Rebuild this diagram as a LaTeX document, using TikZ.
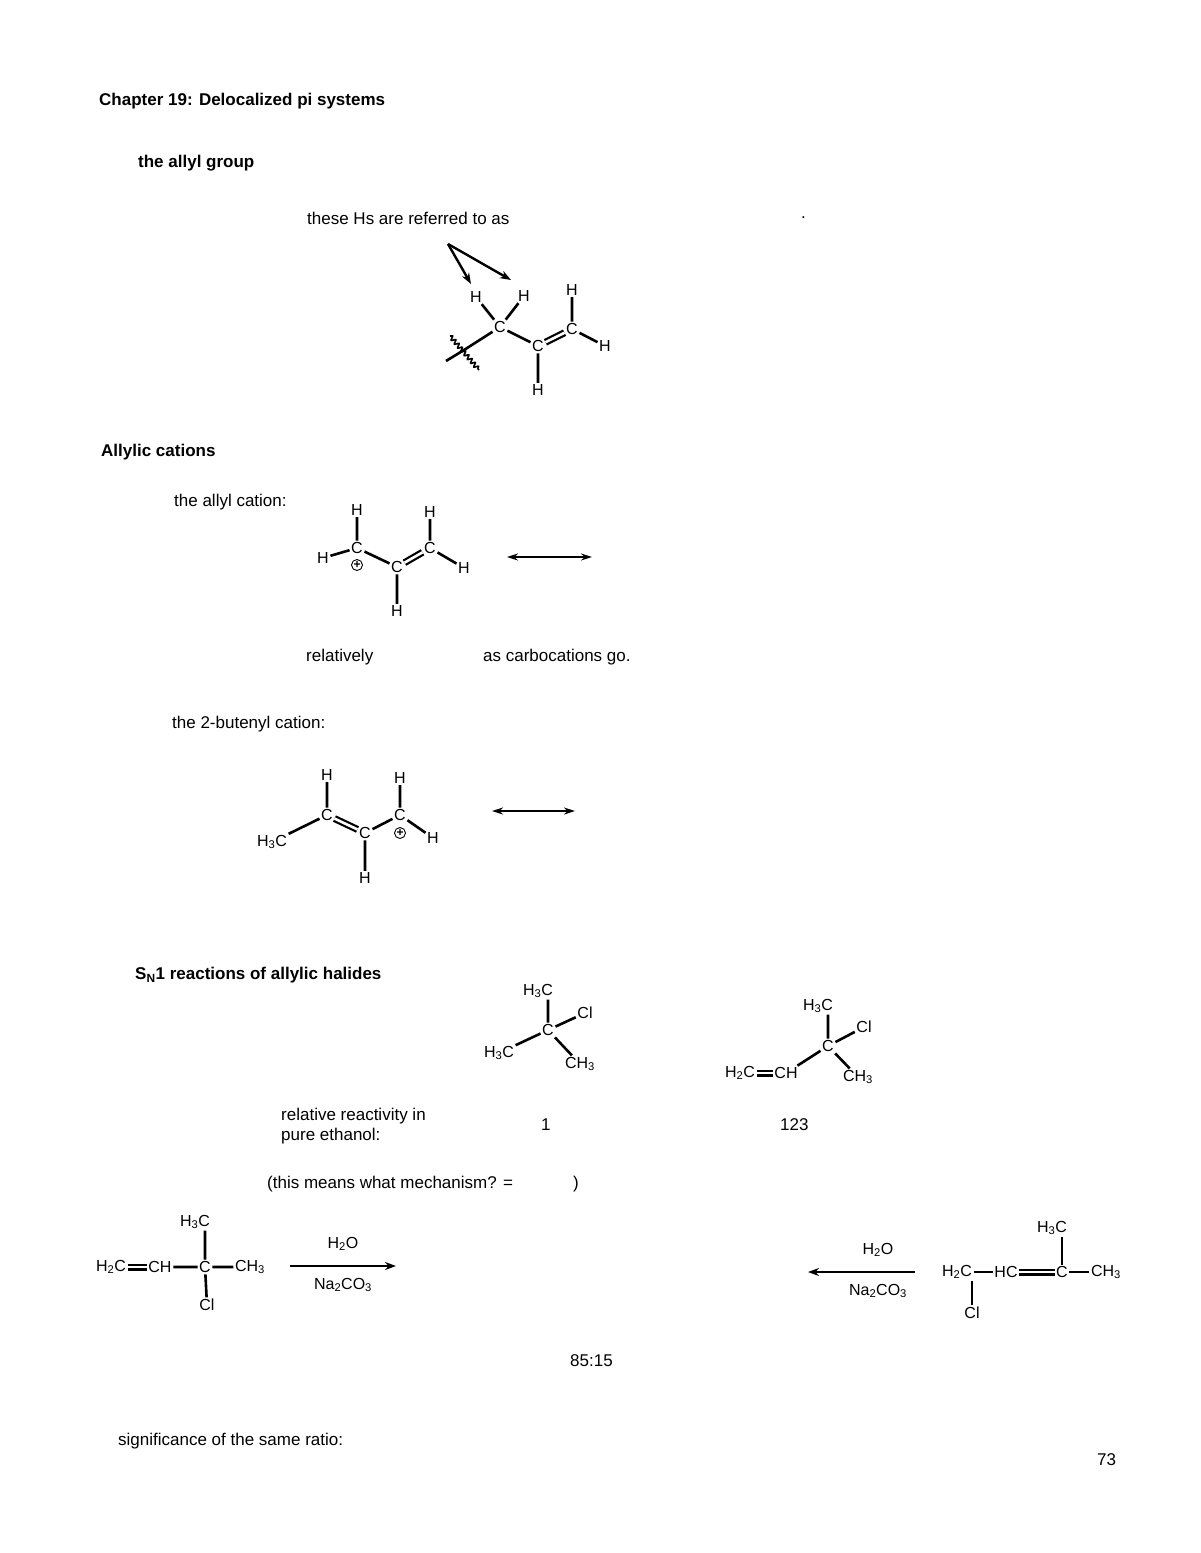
\documentclass[tikz,border=0pt]{standalone}
\usepackage{fontspec}
\setmainfont{Liberation Sans}
\usetikzlibrary{arrows.meta,decorations.pathmorphing}
\newcommand\ssub[1]{\textsubscript{#1}}
\begin{document}
\begin{tikzpicture}[x=1pt,y=-1pt,
  txt/.style={anchor=west,inner sep=0pt,font=\fontsize{17}{20}\selectfont},
  ttl/.style={anchor=west,inner sep=0pt,font=\fontsize{17}{20}\selectfont\bfseries},
  atm/.style={inner sep=1.5pt,font=\fontsize{16}{18}\selectfont},
  bd/.style={line width=2.6pt},
  dbd/.style={line width=2.2pt,double,double distance=2.6pt},
  arr/.style={line width=2.4pt,-{Stealth[length=11pt,width=8pt]}},
  darr/.style={line width=1.5pt,{Stealth[length=11pt,width=7pt]}-{Stealth[length=11pt,width=7pt]}},
  pl/.style={circle,draw,line width=0.9pt,inner sep=0pt,minimum size=11pt,font=\fontsize{12}{12}\selectfont\bfseries}]
\useasboundingbox (0,0) rectangle (1200,1553);
% headings and texts
\node[ttl] (t1) at (99,101) {Chapter 19: Delocalized pi systems};
\node[ttl] (t2) at (138,163) {the allyl group};
\node[txt] (t3) at (307,218) {these Hs are referred to as};
\node[txt] (t4) at (801,218) {.};
\node[ttl] (t5) at (101,452) {Allylic cations};
\node[txt] (t6) at (174,502) {the allyl cation:};
\node[txt] (t7) at (306,657) {relatively};
\node[txt] (t8) at (483,657) {as carbocations go.};
\node[txt] (t9) at (172,724) {the 2-butenyl cation:};
\node[ttl] (t10) at (135,975) {S\ssub{N}1 reactions of allylic halides};
\node[txt,align=left] (t11) at (281,1126) {relative reactivity in\\pure ethanol:};
\node[txt] (t12) at (541,1125) {1};
\node[txt] (t13) at (780,1125) {123};
\node[txt] (t14) at (267,1184) {(this means what mechanism? =};
\node[txt] (t15) at (573,1184) {)};
\node[txt] (t16) at (570,1361) {85:15};
\node[txt] (t17) at (118,1441) {significance of the same ratio:};
\node[txt] (t18) at (1097,1460) {73};
% allyl group
\node[atm] (a1) at (500,327) {C};
\node[atm] (a2) at (538,346) {C};
\node[atm] (a3) at (572,329) {C};
\node[atm] (ah1) at (476,297) {H};
\node[atm] (ah2) at (524,296) {H};
\node[atm] (ah3) at (572,290) {H};
\node[atm] (ah4) at (605,346) {H};
\node[atm] (ah5) at (538,390) {H};
\coordinate (aw) at (464,350);
\coordinate (aw1) at (450,336);
\coordinate (aw2) at (479,370);
\coordinate (aw3) at (446,361);
\draw[bd] (a1) -- (aw) -- (aw3);
\draw[line width=1.6pt,decorate,decoration={snake,amplitude=2pt,segment length=5pt}] (aw1) -- (aw2);
\draw[bd] (a1)--(ah1) (a1)--(ah2) (a1)--(a2) (a3)--(ah3) (a3)--(ah4) (a2)--(ah5);
\draw[dbd] (a2) -- (a3);
\coordinate (ap) at (448,244);
\coordinate (ae1) at (471,284);
\coordinate (ae2) at (511,280);
\draw[arr] (ap) -- (ae1);
\draw[arr] (ap) -- (ae2);
% allyl cation
\node[atm] (b1) at (357,548) {C};
\node[atm] (b2) at (397,567) {C};
\node[atm] (b3) at (430,548) {C};
\node[atm] (bh1) at (357,510) {H};
\node[atm] (bh2) at (323,558) {H};
\node[atm] (bh3) at (397,611) {H};
\node[atm] (bh4) at (430,512) {H};
\node[atm] (bh5) at (464,568) {H};
\node[pl] (bp) at (357,565) {+};
\draw[bd] (b1)--(bh1) (b1)--(bh2) (b1)--(b2) (b2)--(bh3) (b3)--(bh4) (b3)--(bh5);
\draw[dbd] (b2) -- (b3);
\coordinate (ba1) at (507,557); \coordinate (ba2) at (592,557);
\draw[darr] (ba1) -- (ba2);
% butenyl cation
\node[atm] (c0) at (272,842) {H\ssub{3}C};
\node[atm] (c1) at (327,815) {C};
\node[atm] (c2) at (365,833) {C};
\node[atm] (c3) at (400,815) {C};
\node[atm] (ch1) at (327,775) {H};
\node[atm] (ch2) at (365,878) {H};
\node[atm] (ch3) at (400,778) {H};
\node[atm] (ch4) at (433,838) {H};
\node[pl] (cp) at (400,833) {+};
\draw[bd] (c0)--(c1) (c1)--(ch1) (c2)--(ch2) (c2)--(c3) (c3)--(ch3) (c3)--(ch4);
\draw[dbd] (c1) -- (c2);
\coordinate (ca1) at (492,811); \coordinate (ca2) at (575,811);
\draw[darr,line width=2.2pt] (ca1) -- (ca2);
% t-butyl chloride
\node[atm] (d0) at (548,1030) {C};
\node[atm] (d1) at (538,991) {H\ssub{3}C};
\node[atm] (d2) at (585,1013) {Cl};
\node[atm] (d3) at (499,1053) {H\ssub{3}C};
\node[atm] (d4) at (580,1064) {CH\ssub{3}};
\draw[bd] (d0)--(d0|-d1.south) (d0)--(d2) (d0)--(d3) (d0)--(d4);
% second
\node[atm] (e0) at (828,1046) {C};
\node[atm] (e1) at (818,1006) {H\ssub{3}C};
\node[atm] (e2) at (864,1027) {Cl};
\node[atm] (e4) at (858,1077) {CH\ssub{3}};
\node[atm] (e5) at (740,1073) {H\ssub{2}C};
\node[atm] (e6) at (786,1073) {CH};
\draw[bd] (e0)--(e0|-e1.south) (e0)--(e2) (e0)--(e4) (e0)--(e6);
\draw[dbd] (e5) -- (e6);
% bottom left
\node[atm] (f1) at (111,1267) {H\ssub{2}C};
\node[atm] (f2) at (160,1267) {CH};
\node[atm] (f3) at (205,1267) {C};
\node[atm] (f4) at (250,1267) {CH\ssub{3}};
\node[atm] (f5) at (195,1222) {H\ssub{3}C};
\node[atm] (f6) at (207,1305) {Cl};
\draw[bd] (f2)--(f3) (f3)--(f4) (f3)--(f3|-f5.south) (f3)--(f6);
\draw[dbd] (f1) -- (f2);
\coordinate (fa1) at (290,1266); \coordinate (fa2) at (396,1266);
\draw[arr] (fa1) -- (fa2);
\node[atm] (f7) at (343,1244) {H\ssub{2}O};
\node[atm] (f8) at (343,1285) {Na\ssub{2}CO\ssub{3}};
% bottom right
\node[atm] (g1) at (957,1272) {H\ssub{2}C};
\node[atm] (g2) at (1006,1272) {HC};
\node[atm] (g3) at (1062,1272) {C};
\node[atm] (g4) at (1106,1272) {CH\ssub{3}};
\node[atm] (g5) at (1052,1228) {H\ssub{3}C};
\node[atm] (g6) at (972,1313) {Cl};
\draw[bd] (g1)--(g2) (g3)--(g4) (g3)--(g3|-g5.south) (g6)--(g6|-g1.south);
\draw[dbd] (g2) -- (g3);
\coordinate (ga1) at (915,1272); \coordinate (ga2) at (808,1272);
\draw[arr] (ga1) -- (ga2);
\node[atm] (g7) at (878,1250) {H\ssub{2}O};
\node[atm] (g8) at (878,1291) {Na\ssub{2}CO\ssub{3}};
\end{tikzpicture}
\end{document}
